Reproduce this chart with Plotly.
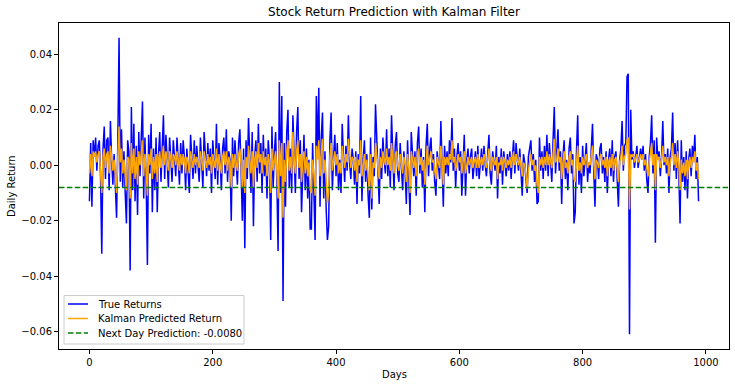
import numpy as np
import plotly.graph_objects as go

# Sampled every 2 days (day 0 .. 988); values in percent
days = list(range(0, 989, 2))

true_returns_pct = [
    -1.3, 0.8, -1.5, 0.9, 0.3, 1.0, -0.2, 0.7, 0.9, -0.4,
    -3.2, 0.6, 1.4, -0.5, 0.9, 1.0, -0.9, 1.6, 0.2, -0.7,
    0.4, -1.2, -1.9, 0.8, 4.6, -0.6, 1.3, -0.8, 0.5, -1.0,
    -2.1, 0.9, 0.5, -3.8, 2.1, -0.9, 1.5, -1.3, 0.7, -1.8,
    1.2, -0.4, 0.9, 2.3, -1.2, 1.0, -0.6, -3.6, 1.1, -0.3,
    1.5, -1.7, 0.6, -0.9, 1.0, -1.7, 0.4, 1.2, -0.6, 0.8,
    1.8, -0.5, 1.1, 0.2, -0.8, 1.0, 0.1, -0.6, 0.9, 0.4,
    -0.4, 1.0, 0.2, -0.7, 0.8, -0.3, 0.9, 0.3, -0.9, 0.6,
    -0.2, -1.0, 1.1, 0.3, -0.5, 0.9, -0.3, 0.7, 0.1, -0.6,
    1.0, 0.2, -0.8, 1.2, 0.1, -0.4, 0.8, -0.2, 0.6, -1.0,
    0.9, 0.3, -0.5, 1.5, -0.7, 0.8, 0.2, -0.9, 0.6, 1.0,
    -0.3, 1.3, -0.6, 0.5, 0.2, -2.0, 1.0, -0.4, 0.9, 0.1,
    -0.7, 0.8, 1.3, -0.2, -2.0, 0.6, -3.0, 0.9, -0.5, 1.7,
    0.4, -1.0, 1.2, -2.2, 0.3, 0.9, -0.6, 1.5, -0.3, 0.8,
    -1.0, 1.1, -0.4, 0.6, -1.2, 0.9, 0.2, -2.7, 1.4, -0.8,
    0.5, 1.2, -0.6, -3.1, 3.0, -1.0, 2.5, -4.9, 0.8, -1.5,
    1.2, 2.0, -0.8, 0.6, -1.0, 1.8, 0.4, -1.0, 1.2, 2.1,
    -0.5, 0.9, -1.7, 0.3, 1.1, -0.9, 0.6, -1.2, 0.2, -2.3,
    -2.3, 0.8, -0.6, -2.7, 2.5, 0.4, 2.8, -1.5, 1.0, 1.9,
    -1.2, 0.5, -1.6, -2.7, -2.2, 0.9, 1.9, -0.9, 0.3, 1.1,
    -0.4, 0.8, -0.9, 0.2, -1.0, 1.5, 0.3, -0.6, 0.7, -0.2,
    1.8, 0.1, -0.5, 0.6, 0.2, -0.7, 0.5, -1.4, 0.4, -0.3,
    2.5, -1.3, 0.2, 0.9, -0.6, 0.4, -1.1, -1.9, 1.0, -1.6,
    0.3, -0.4, 2.2, 0.5, -0.2, -1.4, 0.6, -0.5, 1.0, 0.2,
    -0.3, 1.3, -0.4, 0.6, -0.8, 1.8, 0.2, -0.9, 0.7, 1.2,
    -0.3, -0.6, 0.8, 0.1, -0.9, 0.5, -0.2, -1.4, 0.9, -0.5,
    -1.8, 1.2, 0.3, -0.4, 0.5, -1.1, 0.8, 1.4, -0.3, 0.6,
    -0.8, 0.3, -1.7, 0.7, 1.5, -0.4, 0.6, 1.0, -0.2, 0.4,
    -0.6, -1.1, 0.5, 0.1, -0.5, 1.6, 0.2, -1.5, 0.7, -0.3,
    0.5, -0.4, 0.9, 0.1, 1.7, -0.2, 0.6, -0.8, 0.3, 0.8,
    -0.2, 0.5, -1.1, 0.4, 1.1, -1.1, 0.2, 0.6, -0.3, 0.3,
    0.6, -0.5, 0.1, 0.5, -0.4, 0.7, -0.5, 0.2, 0.6, -0.2,
    0.7, 0.0, -0.4, 0.4, 1.1, -0.3, -0.7, 0.5, 0.1, -0.2,
    0.7, -1.2, 0.3, -0.3, 0.6, -0.7, 0.5, 0.0, -0.4, 0.4,
    -0.2, 0.5, -0.5, 0.3, 0.9, -0.3, 0.8, 0.2, -0.2, 0.6,
    -0.3, -1.1, 0.4, 0.1, -0.5, -1.0, 0.3, 0.6, 0.9, -0.2,
    0.4, -0.6, 0.2, -1.4, -1.3, 1.0, -0.2, 0.5, -0.5, 0.7,
    -0.2, 1.1, -0.4, 0.8, 0.2, -0.6, 0.9, 2.1, -0.3, 0.4,
    1.3, -0.2, 0.5, -1.4, 0.3, 0.9, -0.5, 0.2, -0.9, 0.6,
    1.0, -0.3, 0.4, -2.1, -1.7, 0.5, 1.8, -0.7, 0.3, -1.0,
    0.7, -0.4, 0.3, 0.8, -0.6, 0.1, -0.3, 0.6, 1.5, -0.2,
    -1.5, 0.4, 0.2, -0.5, 0.6, 0.8, -0.3, 0.3, -0.6, 0.5,
    -1.0, 0.2, 0.6, -0.4, 0.9, -0.6, 0.3, 0.5, -0.4, -1.5,
    0.2, 0.6, 1.6, -0.2, 0.7, 0.8, 3.2, 3.3, -6.1, 2.0,
    0.2, 0.5, -0.1, 0.4, 0.7, -0.1, 0.3, 0.6, 0.2, 0.7,
    -0.2, 0.4, -0.5, -1.0, 0.3, 0.8, 1.8, -0.3, 0.9, -2.8,
    1.0, 0.2, 0.5, -0.4, 0.3, 1.6, 0.0, 0.4, -0.3, 0.6,
    -1.0, 0.3, 0.6, 1.9, -0.2, 0.8, -0.5, 0.9, -0.3, -2.1,
    0.9, -0.6, 0.3, -0.9, 0.5, -1.2, 0.2, 0.6, -0.4, 0.7,
    0.2, 1.1, -0.5, 0.3, -1.3,
]

kalman_pct = [
    -0.3, 0.4, -0.4, 0.5, 0.3, 0.5, 0.1, 0.4, 0.5, -0.1,
    -1.0, 0.3, 0.6, -0.1, 0.4, 0.5, -0.3, 0.7, 0.2, -0.2,
    0.2, -0.4, -1.0, 0.3, 1.4, 0.1, 0.6, -0.3, 0.2, -0.4,
    -0.9, 0.3, 0.2, -1.2, 0.8, -0.3, 0.6, -0.5, 0.3, -0.7,
    0.5, 0.0, 0.4, 0.9, -0.4, 0.4, -0.2, -1.1, 0.4, 0.0,
    0.6, -0.5, 0.3, -0.3, 0.4, -0.6, 0.2, 0.5, -0.1, 0.4,
    0.7, 0.0, 0.5, 0.2, -0.2, 0.5, 0.1, -0.1, 0.4, 0.3,
    0.0, 0.5, 0.2, -0.2, 0.4, 0.0, 0.4, 0.2, -0.3, 0.3,
    0.1, -0.3, 0.5, 0.2, -0.1, 0.4, 0.0, 0.3, 0.1, -0.1,
    0.5, 0.2, -0.2, 0.5, 0.1, -0.1, 0.4, 0.0, 0.3, -0.3,
    0.4, 0.2, -0.1, 0.6, -0.2, 0.4, 0.1, -0.3, 0.3, 0.5,
    0.0, 0.5, -0.2, 0.3, 0.1, -0.8, 0.4, -0.1, 0.4, 0.1,
    -0.2, 0.4, 0.6, 0.0, -0.8, 0.2, -1.0, 0.3, -0.1, 0.7,
    0.3, -0.3, 0.5, -0.8, 0.2, 0.5, -0.1, 0.8, 0.1, 0.4,
    -0.3, 0.5, 0.0, 0.3, -0.4, 0.4, 0.1, -1.0, 0.6, -0.2,
    0.2, 0.5, -0.2, -1.2, 0.9, -0.4, 0.8, -1.9, 0.2, -0.6,
    0.5, 0.9, -0.2, 0.3, -0.3, 1.2, 0.3, -0.3, 0.5, 0.9,
    -0.1, 0.4, -0.6, 0.2, 0.5, -0.3, 0.3, -0.4, 0.1, -0.9,
    -1.0, 0.2, -0.3, -1.1, 0.7, 0.2, 0.9, -0.4, 0.5, 0.95,
    -0.3, 0.2, -0.6, -1.35, -1.0, 0.3, 0.8, -0.2, 0.2, 0.5,
    0.0, 0.4, -0.3, 0.1, -0.3, 0.7, 0.2, -0.1, 0.4, 0.1,
    0.95, 0.2, -0.1, 0.3, 0.2, -0.2, 0.3, -0.6, 0.2, 0.0,
    0.9, -0.4, 0.1, 0.4, -0.2, 0.2, -0.4, -0.9, 0.4, -1.2,
    0.1, -0.1, 0.8, 0.3, 0.0, -0.5, 0.3, -0.1, 0.5, 0.2,
    0.0, 0.6, 0.0, 0.3, -0.2, 0.8, 0.2, -0.3, 0.4, 0.5,
    0.0, -0.2, 0.4, 0.1, -0.3, 0.3, 0.0, -0.6, 0.4, -0.1,
    -1.0, 0.5, 0.2, -0.1, 0.3, -0.4, 0.4, 0.6, 0.0, 0.3,
    -0.2, 0.2, -0.7, 0.3, 0.7, 0.0, 0.3, 0.5, 0.1, 0.2,
    -0.2, -0.5, 0.3, 0.1, -0.1, 0.7, 0.2, -0.7, 0.3, 0.0,
    0.3, 0.0, 0.4, 0.2, 0.9, 0.1, 0.3, -0.2, 0.2, 0.4,
    0.1, 0.3, -0.3, 0.2, 0.5, -0.3, 0.1, 0.3, 0.0, 0.2,
    0.3, -0.1, 0.1, 0.3, -0.1, 0.4, -0.1, 0.1, 0.3, 0.0,
    0.4, 0.1, -0.1, 0.2, 0.6, 0.0, -0.2, 0.3, 0.1, 0.0,
    0.3, -0.5, 0.1, 0.0, 0.3, -0.2, 0.3, 0.1, -0.1, 0.2,
    0.0, 0.3, -0.1, 0.2, 0.5, 0.0, 0.4, 0.2, 0.0, 0.3,
    0.0, -0.4, 0.1, 0.0, -0.3, -0.85, -0.2, 0.2, 0.4, 0.0,
    0.2, -0.2, 0.0, -0.7, -1.0, 0.3, 0.0, 0.3, -0.1, 0.3,
    0.0, 0.5, 0.0, 0.4, 0.2, -0.1, 0.4, 0.95, 0.1, 0.2,
    0.6, 0.1, 0.3, -0.5, 0.1, 0.5, -0.1, 0.1, -0.3, 0.3,
    0.5, 0.0, 0.2, -0.5, -0.6, 0.2, 0.7, -0.2, 0.1, -0.3,
    0.3, 0.0, 0.2, 0.4, -0.1, 0.1, 0.0, 0.3, 0.7, 0.1,
    -0.5, 0.2, 0.1, -0.1, 0.3, 0.4, 0.0, 0.2, -0.1, 0.3,
    -0.4, 0.1, 0.3, -0.1, 0.4, -0.2, 0.2, 0.3, -0.1, -0.6,
    0.1, 0.3, 0.7, 0.0, 0.3, 0.4, 0.9, 1.0, -1.6, 0.4,
    0.3, 0.4, 0.1, 0.3, 0.4, 0.1, 0.2, 0.4, 0.2, 0.4,
    0.0, 0.2, -0.2, -0.4, 0.1, 0.4, 0.8, 0.0, 0.4, -0.9,
    0.4, 0.2, 0.3, -0.1, 0.2, 0.7, 0.1, 0.3, 0.0, 0.3,
    -0.4, 0.1, 0.3, 0.8, 0.0, 0.4, -0.1, 0.5, 0.0, -0.9,
    0.2, -0.3, 0.1, -0.4, 0.2, -0.5, 0.1, 0.3, -0.1, 0.3,
    0.1, 0.5, -0.2, 0.1, -0.5,
]

next_day_prediction = -0.0080

x_ticks = [0, 200, 400, 600, 800, 1000]
y_ticks = [-0.06, -0.04, -0.02, 0.00, 0.02, 0.04]

series_names = ["True Returns", "Kalman Predicted Return",
                f"Next Day Prediction: {next_day_prediction:.4f}"]
series_colors = ["#0000ff", "#ffa500", "#008000"]

true_returns = np.array(true_returns_pct) / 100.0
kalman_pred = np.array(kalman_pct) / 100.0

n_last = days[-1]
x_range = [-0.05 * n_last, 1.05 * n_last]
ymin = min(true_returns.min(), kalman_pred.min())
ymax = max(true_returns.max(), kalman_pred.max())
pad = 0.05 * (ymax - ymin)
y_range = [ymin - pad, ymax + pad]

W, H = 735, 387
L, R, T, B = 59, 6, 23, 38
PW, PH = W - L - R, H - T - B

def px(xp):
    return (xp - L) / PW

def py(yp):
    return (H - B - yp) / PH

font = "DejaVu Sans, Arial, sans-serif"
dash = "5.5px,2.4px"

fig = go.Figure()
fig.add_trace(go.Scatter(x=days, y=true_returns, mode="lines",
                         name=series_names[0],
                         line=dict(color=series_colors[0], width=1.5)))
fig.add_trace(go.Scatter(x=days, y=kalman_pred, mode="lines",
                         name=series_names[1],
                         line=dict(color=series_colors[1], width=1.5)))
fig.add_trace(go.Scatter(x=x_range, y=[next_day_prediction] * 2, mode="lines",
                         name=series_names[2],
                         line=dict(color=series_colors[2], width=1.5, dash=dash)))

axis_common = dict(showgrid=False, zeroline=False, showline=True, mirror=True,
                   linecolor="black", linewidth=1, ticks="outside", ticklen=4,
                   tickcolor="black", automargin=False,
                   tickfont=dict(size=10, color="black", family=font))

fig.update_xaxes(range=x_range, tickvals=x_ticks, **axis_common)
fig.update_yaxes(range=y_range, tickvals=y_ticks, tickformat=".2f", **axis_common)

# Legend box (matplotlib style) drawn in paper coordinates
shapes = [dict(type="rect", xref="paper", yref="paper",
               x0=px(64), x1=px(244), y0=py(344), y1=py(295.5),
               line=dict(color="#cccccc", width=1),
               fillcolor="rgba(255,255,255,0.8)", layer="above")]
annotations = []
rows_y = [304, 318.5, 333]
for i, (name, col) in enumerate(zip(series_names, series_colors)):
    shapes.append(dict(type="line", xref="paper", yref="paper",
                       x0=px(68), x1=px(88), y0=py(rows_y[i]), y1=py(rows_y[i]),
                       line=dict(color=col, width=1.5, dash=dash if i == 2 else "solid"),
                       layer="above"))
    annotations.append(dict(text=name, xref="paper", yref="paper",
                            x=px(96), y=py(rows_y[i]), xanchor="left", yanchor="middle",
                            showarrow=False, font=dict(size=10, color="black", family=font)))

annotations.append(dict(text="Days", xref="paper", yref="paper",
                        x=0.5, y=py(374), xanchor="center", yanchor="middle",
                        showarrow=False, font=dict(size=10, color="black", family=font)))
annotations.append(dict(text="Daily Return", xref="paper", yref="paper",
                        x=px(11), y=0.5, xanchor="center", yanchor="middle", textangle=-90,
                        showarrow=False, font=dict(size=10, color="black", family=font)))

fig.update_layout(
    width=W, height=H,
    margin=dict(l=L, r=R, t=T, b=B),
    paper_bgcolor="white", plot_bgcolor="white",
    font=dict(family=font, color="black"),
    title=dict(text="Stock Return Prediction with Kalman Filter",
               x=(L + W - R) / 2 / W, xanchor="center", y=1 - 12 / H, yanchor="middle",
               automargin=False,
               font=dict(size=12, color="black", family=font)),
    showlegend=False,
    shapes=shapes,
    annotations=annotations,
)

fig.write_html("out.html",
               config={"displayModeBar": False},
               post_script="document.body.style.margin='0';document.body.style.overflow='hidden';")
